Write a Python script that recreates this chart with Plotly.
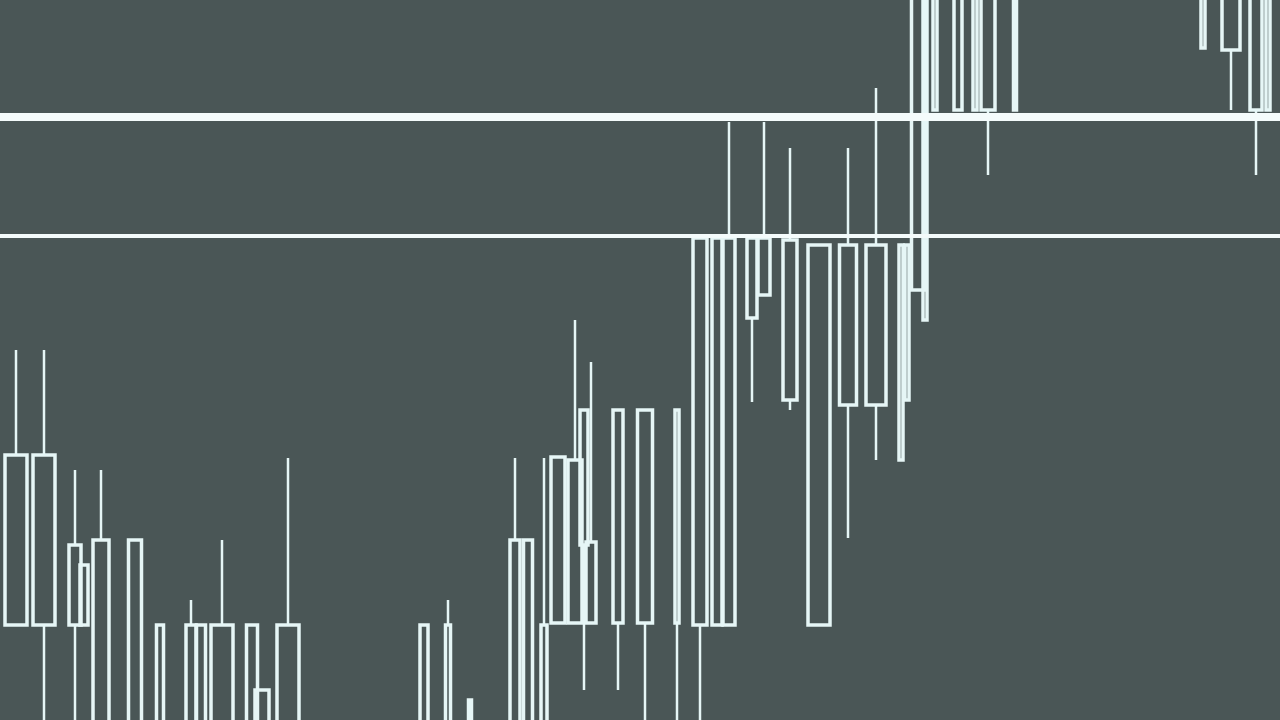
import plotly.graph_objects as go

# Candle data (price units; chart is a zoomed-in crop so many candles run off the frame)
x_pos   = [16, 44, 75, 84, 101, 135, 160, 191, 201, 222, 252, 262, 288,
           424, 448, 470, 515, 528, 544, 558, 575, 584, 591, 618, 645, 677,
           700, 717, 729, 752, 764, 790, 819, 848, 876, 901, 907, 918, 925,
           935, 958, 975, 988, 1015, 1203, 1231, 1256, 1268]
body_lo = [95, 95, 95, 95, -20, -20, -20, -20, -20, -20, -20, -20, -20,
           -20, -20, -20, -20, -20, -20, 97, 97, 175, 97, 97, 97, 97,
           95, 95, 95, 402, 425, 320, 95, 315, 315, 260, 320, 430, 400,
           610, 610, 610, 610, 610, 672, 670, 610, 610]
body_hi = [265, 265, 175, 155, 180, 180, 95, 95, 95, 95, 95, 30, 95,
           95, 95, 20, 180, 180, 95, 263, 260, 310, 178, 310, 310, 310,
           482, 482, 482, 482, 482, 480, 475, 475, 475, 475, 475, 740, 740,
           740, 740, 740, 740, 740, 740, 740, 740, 740]
high    = [370, 370, 250, 155, 250, 180, 95, 120, 95, 180, 95, 30, 262,
           95, 120, 20, 262, 180, 262, 263, 400, 310, 358, 310, 310, 310,
           482, 482, 598, 482, 598, 572, 475, 572, 632, 475, 475, 740, 740,
           740, 740, 740, 740, 740, 740, 740, 740, 740]
low     = [95, -10, -10, 95, -20, -20, -20, -20, -20, -20, -20, -20, -20,
           -20, -20, -20, -20, -20, -20, 97, 97, 30, 97, 30, -20, -20,
           -20, 95, 95, 318, 425, 310, 95, 182, 260, 260, 320, 430, 400,
           610, 610, 610, 545, 610, 672, 610, 545, 610]
widths  = [22, 22, 12, 8, 16, 13, 7, 10, 9, 22, 11, 14, 22,
           8, 5, 3, 10, 9, 6, 14, 14, 8, 10, 10, 15, 4,
           14, 10, 12, 10, 12, 14, 22, 17, 20, 4, 4, 13, 4,
           4, 8, 4, 14, 3, 4, 18, 12, 4]

# Horizontal price levels
levels = [603, 484]
level_widths = [8, 4]

BG = "#4a5656"
INK = "#e6f6f6"

# Wick segments derived from the candle data
wx, wy = [], []
for x, lo, hi, h, l in zip(x_pos, body_lo, body_hi, high, low):
    if h > hi:
        wx += [x, x, None]
        wy += [hi, h, None]
    if l < lo:
        wx += [x, x, None]
        wy += [lo, l, None]

fig = go.Figure()
fig.add_trace(go.Scatter(
    x=wx, y=wy, mode="lines",
    line=dict(color=INK, width=2.5),
    hoverinfo="skip", showlegend=False,
))
fig.add_trace(go.Bar(
    x=x_pos,
    y=[h - l for h, l in zip(body_hi, body_lo)],
    base=body_lo,
    width=widths,
    marker=dict(color="rgba(0,0,0,0)", line=dict(color=INK, width=3.5)),
    showlegend=False,
))

for lv, lw in zip(levels, level_widths):
    fig.add_hline(y=lv, line=dict(color="#f4fbfb", width=lw), layer="above")

fig.update_layout(
    width=1280, height=720,
    margin=dict(l=0, r=0, t=0, b=0),
    paper_bgcolor=BG, plot_bgcolor=BG,
    barmode="overlay",
    xaxis=dict(range=[0, 1280], visible=False, fixedrange=True),
    yaxis=dict(range=[0, 720], visible=False, fixedrange=True),
)

fig.write_html(
    "out.html",
    config={"displayModeBar": False},
    post_script="document.body.style.margin='0';document.body.style.overflow='hidden';"
                "document.body.style.background='" + BG + "';",
)
